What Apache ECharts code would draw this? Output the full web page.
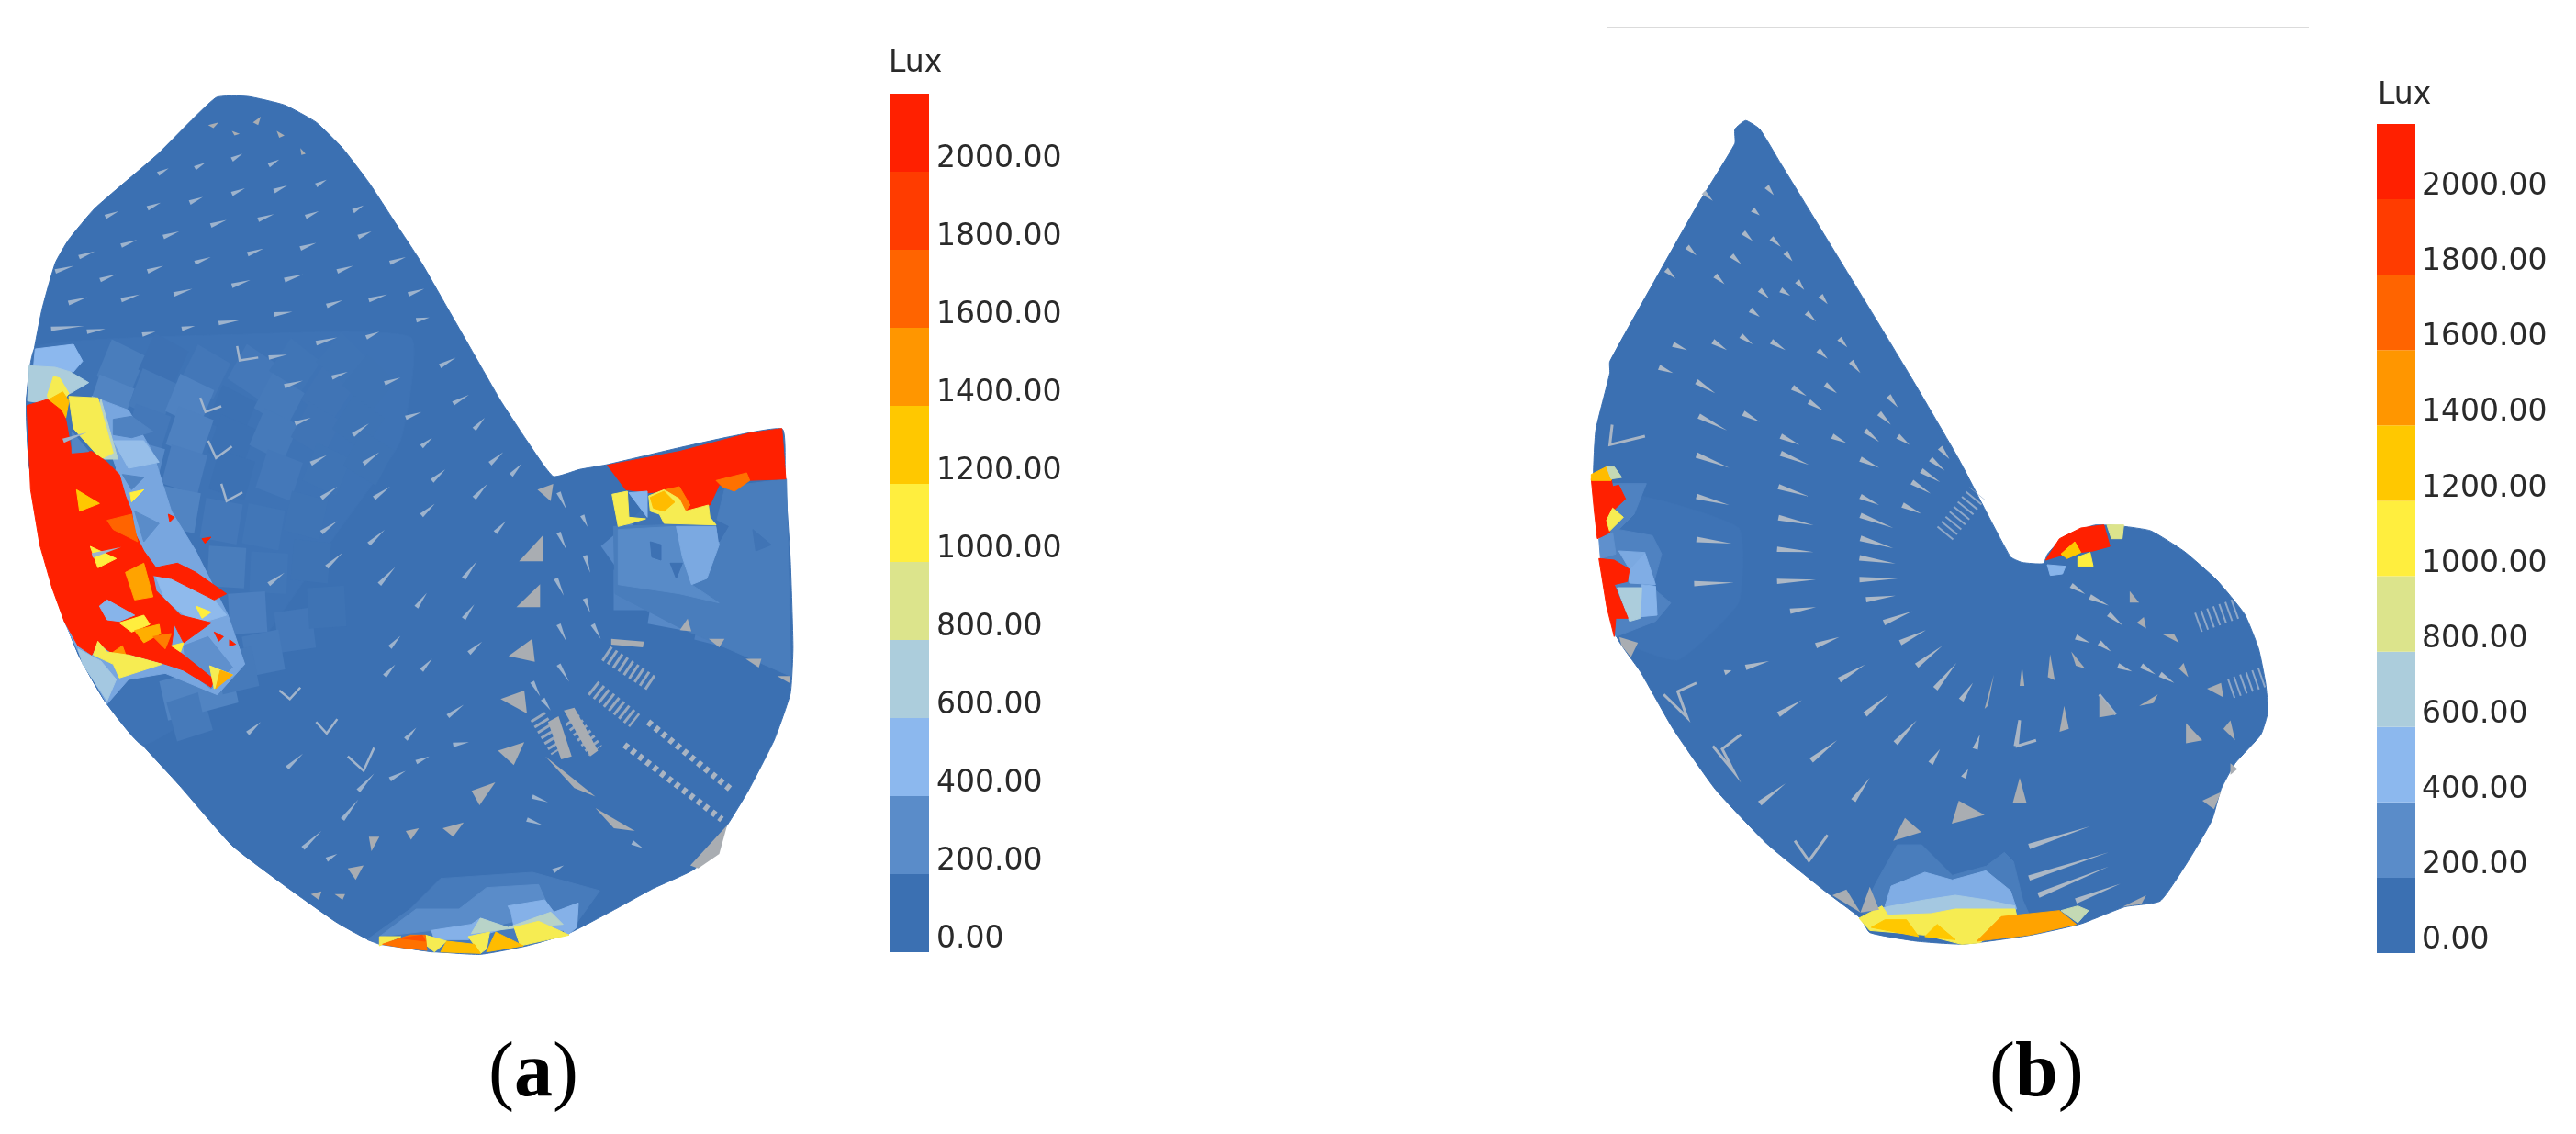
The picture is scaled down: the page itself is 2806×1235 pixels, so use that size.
<!DOCTYPE html>
<html>
<head>
<meta charset="utf-8">
<script src="https://cdn.jsdelivr.net/npm/echarts@6/dist/echarts.min.js"></script>
<style>
html,body{margin:0;padding:0;background:#fff}
#chart{width:2806px;height:1235px;filter:blur(0.7px)}
</style>
</head>
<body>
<div id="chart"></div>
<script>
// lux classes of the colour bar
const luxBins = [0,200,400,600,800,1000,1200,1400,1600,1800,2000];
const luxColors = ['#3b70b2','#5a8cc9','#8cb8ee','#accddc','#dce48c','#ffee3e','#ffc800','#ff9600','#ff6400','#ff3c00','#ff2000'];

// plan (a), whole room. [lux, [x,y,x,y...]]
const outlineA = [410,42,470,40,540,55,600,85,650,130,700,190,750,260,800,330,850,410,900,490,950,570,1000,640,1050,702,1100,690,1150,682,1290,652,1390,632,1485,620,1490,705,1500,850,1505,1000,1500,1080,1470,1160,1420,1250,1380,1310,1320,1385,1240,1420,1160,1460,1080,1498,1000,1520,910,1535,800,1528,720,1515,700,1510,640,1480,540,1415,440,1345,340,1240,270,1170,200,1095,150,1015,110,920,80,800,55,680,50,570,65,480,80,410,105,330,130,290,180,235,300,140];
const zonesA = [
  [100, outlineA],
  [122, [70,475,450,455,780,460,760,640,640,800,480,1010,350,1130,270,1170,200,1095,150,1015,110,920,80,800,55,680,50,570]]
];
// mosaic cells of plan (a): [x, y, lux]
const tilesA = [
  [230,510,190],[310,500,110],[390,520,150],[480,520,160],[560,510,135],[650,500,125],
  [210,570,240],[290,560,170],[360,570,230],[440,590,105],[530,570,170],[620,560,130],[700,540,120],
  [280,620,160],[360,625,220],[440,640,105],[520,630,170],[600,620,130],[680,610,120],
  [270,680,280],[350,690,200],[440,700,105],[530,700,160],[620,690,125],[700,670,118],
  [340,760,240],[420,780,160],[500,790,140],[580,770,125],[430,860,190],[510,870,140],[590,850,120],
  [470,940,210],[560,970,150],[500,1010,180],[620,930,118],
  [345,1085,240],[360,1120,170],[410,1070,240],[450,1040,170]
];
// mottled cells of the right wing of plan (a)
const tilesWingA = [
  [1190,830,280],[1250,860,240],[1310,830,300],[1380,820,220],[1200,900,230],[1270,930,280],[1340,900,240],
  [1410,880,190],[1360,960,210],[1430,950,150],[1250,780,130],[1380,760,120]
];
// left window of plan (a)
const zonesLeftA = [
  [420,[300,215,420,260,500,400,560,590,640,720,745,930,800,1090,710,1190,540,1120,420,1140,350,1220,270,1080,210,950,380,450]],
  [500,[115,60,240,45,270,100,240,135,110,115]],
  [700,[95,115,180,120,230,135,290,170,230,205,160,240,90,230]],
  [230,[370,290,430,280,500,330,430,350,370,340]],
  [240,[400,470,470,480,430,520]],
  [520,[500,780,590,770,700,880,740,930,640,960,540,880]],
  [560,[370,360,470,360,520,430,420,450]],
  [300,[440,590,520,630,470,690]],
  [320,[600,1030,680,1000,760,1100,690,1170,610,1110]],
  [750,[300,330,330,225,385,420,340,420]],
  [1050,[225,215,320,220,370,400,330,420,240,320]],
  [1050,[155,210,175,150,195,155,225,205,200,240,160,240]],
  [1350,[160,225,205,200,225,230,215,285,190,290]],
  [650,[255,1040,330,1080,380,1140,350,1210,270,1090]],
  [2100,[88,245,155,225,200,260,215,290,235,400,300,395,350,430,390,470,410,540,430,590,440,660,470,720,510,775,530,770,580,760,640,790,740,860,700,880,640,850,560,810,500,800,510,850,590,930,690,955,600,1020,570,960,560,1030,600,1060,700,1140,690,1165,600,1110,540,1090,430,1060,360,1050,320,1020,300,1060,255,1030,210,950,170,840,130,700,100,520]],
  [250,[235,330,290,395,235,400]],
  [1300,[250,520,325,565,260,590]],
  [1100,[295,705,380,745,320,775]],
  [1700,[350,620,430,600,450,690,370,650]],
  [1450,[410,790,470,760,500,870,440,880]],
  [480,[325,900,350,880,440,930,390,950,350,945]],
  [1100,[390,955,470,930,490,960,430,985]],
  [1400,[440,980,520,960,525,990,470,1020]],
  [1600,[500,1000,560,990,540,1040]],
  [1500,[370,1050,400,1030,415,1070,390,1080]],
  [1050,[305,1060,320,1015,350,1050,420,1060,530,1090,390,1135,370,1090]],
  [1050,[685,1095,760,1125,700,1170]],
  [1400,[760,1125,705,1170,720,1110]],
  [1100,[640,900,690,920,660,940]],
  [1100,[425,530,470,520,430,560]],
  [1100,[560,1030,600,1020,590,1050]],
  [2100,[550,600,570,610,555,625]],
  [2100,[660,680,690,675,670,695]],
  [2100,[750,1010,770,1025,750,1030]],
  [2100,[700,985,730,1000,715,1015]]
];
// right wing window of plan (a)
const zonesWingA = [
  [190,[85,370,420,360,450,240,650,215,665,860,300,700,90,590]],
  [290,[100,380,290,370,340,560,430,620,300,590,100,560]],
  [430,[290,370,420,370,430,430,390,540,340,560,310,470]],
  [110,[205,420,240,430,240,480,210,470]],
  [110,[270,490,310,490,290,540]],
  [110,[420,350,460,370,430,420]],
  [130,[540,380,600,430,550,450]],
  [2100,[65,170,300,125,530,65,635,50,648,215,520,220,430,235,400,300,320,320,300,250,200,260,125,250]],
  [1650,[420,220,520,195,530,220,480,255,440,240]],
  [1600,[255,250,300,240,335,300,320,320]],
  [1050,[80,265,130,255,135,340,190,345,140,360,100,370]],
  [1050,[200,270,250,250,300,280,320,320,395,300,400,340,420,365,250,360,235,330,205,320]],
  [480,[135,260,195,255,195,340]],
  [1350,[205,275,250,255,285,290,250,320,215,310]]
];
// bottom window of plan (a)
const zonesBottomA = [
  [180,[60,220,200,120,300,20,600,0,820,60,720,200,620,230,430,265,270,260,100,235]],
  [300,[100,210,220,120,360,120,450,50,620,40,660,130,500,170,270,190]],
  [470,[520,110,640,90,670,130,750,100,745,180,715,205,700,190,540,180,530,130]],
  [470,[270,190,400,170,430,150,520,180,390,220,280,220]],
  [750,[400,200,430,150,520,180,660,130,700,170,560,180]],
  [1050,[540,180,620,160,720,205,560,240]],
  [1050,[390,210,460,195,450,250,430,265]],
  [1050,[250,205,320,225,280,260,255,240]],
  [1050,[100,210,170,210,100,240]],
  [1350,[300,260,320,225,410,235,430,265]],
  [1350,[450,260,480,195,570,240]],
  [1650,[110,235,200,205,250,205,255,255,170,245]],
  [1800,[170,215,240,205,250,225]]
];

// plan (b), whole room
const outlineB = [372,65,395,50,425,65,470,125,560,245,650,365,750,500,850,640,960,810,985,820,1030,822,1040,805,1075,775,1140,755,1200,757,1260,765,1330,800,1400,850,1460,910,1490,970,1505,1030,1510,1080,1495,1120,1440,1170,1410,1215,1390,1270,1340,1340,1280,1410,1205,1420,1110,1450,1000,1470,860,1485,760,1480,660,1465,640,1440,560,1390,440,1310,330,1215,240,1110,170,1010,120,950,90,800,70,680,75,590,105,490,105,470,200,330,290,200,372,90];
const zonesB = [
  [100, outlineB],
  [122, [130,700,380,760,380,890,250,990,120,950,90,800]]
];
const zonesLeftB = [
  [230,[170,140,280,140,240,240,190,290,300,310,330,370,300,480,360,530,310,590,180,640,130,350]],
  [450,[220,420,275,365,310,470,225,465]],
  [430,[190,360,275,365,225,420]],
  [320,[125,320,170,300,180,370,130,385]],
  [480,[265,470,310,475,315,570,260,575]],
  [700,[185,480,265,480,260,580,225,590]],
  [2100,[100,125,165,125,170,150,190,145,212,190,175,225,160,300,120,320,110,230]],
  [1050,[150,260,170,220,205,250,185,270,160,295]],
  [1350,[100,110,150,85,175,100,165,130,100,130]],
  [800,[150,85,175,85,200,120,165,125]],
  [2100,[125,385,175,390,225,420,218,460,175,470,220,580,180,580,175,640,150,540]]
];
const zonesBottomB = [
  [190,[235,280,280,185,350,60,430,60,530,160,640,130,700,85,730,115,760,240,780,285,620,340,300,320]],
  [450,[310,260,330,195,440,150,530,175,640,145,720,210,740,270,540,300]],
  [650,[305,265,440,240,540,225,640,240,735,260,735,295,320,295]],
  [1050,[225,300,300,260,320,290,460,285,540,270,735,270,740,290,620,380,560,385,440,355,260,340]],
  [1300,[265,330,310,305,380,305,420,360]],
  [1300,[440,360,480,320,540,370]],
  [1450,[610,375,690,295,880,275,935,320,780,355]],
  [800,[885,275,940,260,975,275,940,315]]
];
const zonesTopB = [
  [480,[150,225,210,230,200,255,160,260]],
  [2100,[145,210,190,140,260,105,335,95,355,165,300,180,210,190]],
  [900,[345,95,400,95,395,140,360,140]],
  [1300,[195,190,240,150,260,185,215,205]],
  [1100,[250,200,290,185,300,230,250,230]]
];

// unlit slivers, plan (a)
const wedgesA = [
  [1020,725,1050,715,1045,745],[985,850,1030,805,1030,850],[980,930,1025,890,1025,930],[965,1015,1010,985,1015,1025],
  [950,1090,995,1075,1000,1115],[945,1180,995,1165,975,1205],[895,1250,940,1235,910,1275],[840,1315,880,1305,860,1330],
  [770,1320,795,1315,780,1335],[700,1330,720,1330,705,1355],[660,1385,690,1380,675,1405],[590,1430,610,1425,605,1440],
  [635,1430,655,1430,650,1440],[395,90,415,85,405,95],[440,100,455,105,445,108],[480,85,495,75,490,90],[525,100,540,108,530,112],
  [570,130,580,140,572,142],[1070,1110,1090,1105,1135,1180,1120,1190],[1040,1130,1060,1120,1085,1190,1065,1195],
  [1160,985,1222,990,1220,1000,1160,995],[1290,970,1305,950,1312,972],[1345,985,1375,985,1365,1000],[1415,1020,1445,1020,1440,1035],
  [1475,1050,1500,1050,1498,1062],[1310,1380,1380,1310,1365,1360,1325,1385],
  [1035,1190,1130,1260,1090,1245],[1130,1280,1205,1320,1165,1315]
];
const ticksA = [
  [300,175,320,165],[370,165,390,155],[440,150,460,140],[510,160,530,150],
  [200,250,225,240],[280,235,305,225],[360,225,385,215],[440,210,465,200],[520,205,545,195],[600,195,620,185],
  [150,320,180,310],[230,300,260,290],[310,285,340,275],[400,265,430,255],[490,255,520,245],[580,250,605,240],[670,240,690,230],
  [105,345,140,335],[190,360,220,350],[280,345,310,335],[370,330,400,320],[470,315,500,305],[570,305,600,295],[680,285,705,275],
  [130,400,165,390],[230,395,265,385],[330,385,365,375],[440,370,475,360],[540,360,575,350],[640,345,670,335],[740,330,770,320],
  [165,450,200,445],[270,455,295,450],[345,445,370,440],[415,435,455,430],[520,420,555,415],[620,405,650,395],[700,395,735,385],[775,385,805,375],
  [600,470,640,460],[695,460,720,450],[790,430,815,425],[510,495,545,490],
  [540,545,575,535],[630,530,660,520],[730,540,760,530],[835,510,865,495],
  [560,610,590,600],[670,630,700,610],[770,600,800,590],[860,575,890,560],
  [590,680,620,665],[690,680,720,660],[800,650,820,635],[900,620,920,600],
  [610,740,640,720],[710,740,740,720],[820,710,845,690],[930,680,955,660],
  [610,800,640,780],[700,820,730,795],[800,770,825,750],[900,740,925,715],[970,700,990,680],
  [510,890,540,870],[620,860,650,835],[720,890,750,860],[790,930,810,905],[880,880,905,850],[940,800,960,780],
  [470,1150,495,1130],[545,1210,575,1185],
  [740,1000,760,980],[800,1040,820,1020],[730,1050,750,1030],[880,950,900,925],[890,1010,915,990],
  [770,1160,790,1140],[850,1120,880,1100],[860,1170,890,1165],[790,1200,815,1190],[740,1230,770,1215],
  [680,1250,710,1220],[650,1300,680,1265],[575,1350,610,1320],[620,1370,640,1360],
  [97,445,160,440],[120,640,165,625],[175,840,230,825],
  [1010,1260,1040,1270],[1200,1340,1220,1350],[1050,1390,1070,1380],[1000,1300,1030,1310],
  [1060,730,1075,760],[1105,770,1115,790],[1060,800,1075,830],[1110,840,1120,870],[1055,880,1070,910],[1110,915,1120,940],
  [1060,960,1075,990],[1125,960,1140,985],[1010,1060,1025,1085],[1060,1030,1080,1060],[1030,1090,1045,1110]
];
// corner marks of plan (a)
const cornersA = [
  [450,475,455,500,490,495],[380,565,390,590,420,580],[395,640,410,670,440,650],[420,715,430,745,460,730],
  [530,1075,550,1090,570,1070],[600,1130,620,1150,640,1125],[660,1190,690,1215,710,1175]
];
// saw-tooth rows and stair hatches of plan (a)
const dashRowsA = [[1230,1130,1390,1250],[1185,1170,1370,1300]];
const hatchesA = [[1125,1070,1205,1128],[1150,1010,1240,1065],[1020,1120,1060,1180],[1085,1125,1130,1180]];

// unlit slivers, plan (b)
const wedgesB = [
  [1040,1020,1055,1025,1045,980],[980,1035,990,1035,985,1000],[1090,975,1120,1005,1100,1000],[1215,870,1235,890,1215,890],
  [1230,925,1250,935,1245,915],[1285,945,1320,960,1310,945],[1320,1005,1340,1020,1330,995],[1380,1040,1415,1055,1410,1030],
  [1065,1115,1085,1110,1075,1070],[1235,1070,1275,1050,1265,1065],[1150,1050,1185,1085,1150,1090],[1335,1135,1370,1130,1335,1100],
  [1415,1110,1440,1130,1430,1095],[965,1240,995,1240,980,1195],[835,1275,905,1260,850,1235],[710,1305,770,1290,735,1265],
  [640,1430,660,1385,680,1425],[580,1400,640,1430,610,1390],[1370,1235,1410,1220,1395,1250],[1200,1420,1250,1400,1240,1415],
  [125,950,165,960,150,985,130,965],[905,1075,925,1015,912,1070],[1430,1170,1445,1180,1430,1190]
];
const ticksB = [
  [290,633,360,655],[290,705,360,720],[290,780,365,787],[285,857,370,855],
  [465,688,530,705],[465,742,540,755],[462,797,540,802],[462,853,545,850],[490,905,545,898],
  [640,738,710,760],[640,778,710,795],[638,812,715,822],[638,850,720,848],[652,885,715,878],
  [690,925,750,905],[725,960,780,938],[760,1000,815,965],[800,1040,845,995],[855,1060,880,1030],
  [545,965,595,950],[595,1025,650,998],[650,1085,700,1050],[715,1135,760,1095],[535,1165,590,1130],[425,1240,480,1205],
  [395,1003,445,992],[350,1012,365,1008],[790,1170,810,1145],[625,1235,660,1195],[885,1145,895,1120],[860,1195,870,1180],[465,1085,515,1060],
  [295,565,355,590],[290,505,330,525],[210,480,240,490],[240,440,270,450],[225,310,245,325],[270,270,290,285],[330,320,350,335],[305,175,325,190],
  [365,285,385,300],[410,205,425,215],[440,165,455,180],[390,245,410,260],[425,345,445,360],[450,255,470,270],[480,280,495,295],
  [405,380,425,392],[470,345,490,355],[505,330,520,345],[325,435,355,450],[385,425,410,440],[450,435,480,450],[525,385,545,400],[555,355,570,370],
  [390,560,425,575],[495,515,525,530],[550,450,570,465],[595,430,612,445],[530,540,560,555],[565,510,590,525],[620,470,640,490],
  [470,630,530,650],[470,600,510,615],[580,600,610,612],[640,640,680,655],[650,590,680,610],[680,560,705,580],[720,600,745,615],[700,530,720,550],
  [640,705,680,720],[730,720,770,735],[750,680,790,700],[770,660,810,680],[790,640,820,660],[810,620,830,640],
  [1000,1315,1130,1280],[1000,1370,1170,1325],[1020,1400,1170,1350],[1100,1410,1195,1380],
  [1090,860,1120,875],[1130,880,1170,895],[1170,910,1200,930],
  [1280,1015,1310,1030],[1240,1000,1270,1015],[1190,1000,1220,1010],[1150,960,1175,975],[1100,950,1130,960]
];
const cornersB = [
  [110,580,105,615,180,600],[220,1050,270,1090,250,1045,290,1030],[325,1140,370,1185,345,1145,385,1120],
  [500,1305,530,1340,570,1295],[970,1140,980,1095,975,1140,1015,1130],[1150,1050,1185,1085]
];
// fine fan hatches of plan (b)
const hatchesB = [[820,770,890,700],[1360,925,1445,900],[1430,1040,1500,1020]];
// faint rule over plan (b)
const ruleB = [50,10,815,10];

const windows = [
  // left, top, width, height, x range, y range
  {id:'mainA', box:[0,80,900,980], range:[1568,1568]},
  {id:'leftA', box:[0,360,320,420], range:[960,1260]},
  {id:'wingA', box:[640,450,240,300], range:[720,900]},
  {id:'bottomA', box:[380,950,300,280], range:[900,840]},
  {id:'mainB', box:[1700,100,800,980], range:[1568,1568]},
  {id:'leftB', box:[1700,480,200,280], range:[600,840]},
  {id:'bottomB', box:[1950,900,400,330], range:[1200,990]},
  {id:'topB', box:[2180,540,200,120], range:[600,360]},
  {id:'rule', box:[1700,20,1000,20], range:[1000,20]}
];
const winIndex = id => windows.findIndex(w => w.id === id);

const toPts = (api, flat) => {
  const pts = [];
  for (let i = 0; i < flat.length; i += 2) pts.push(api.coord([flat[i], flat[i + 1]]));
  return pts;
};

let zSeq = 2;
const luxSeriesIdx = [];
const series = [];

function addZones(win, zones, smooth) {
  luxSeriesIdx.push(series.length);
  series.push({
    type:'custom', silent:true, z:zSeq++,
    xAxisIndex:winIndex(win), yAxisIndex:winIndex(win),
    data:zones.map(z => [z[0]]),
    renderItem(params, api) {
      const c = api.visual('color');
      return {type:'polygon', shape:{points:toPts(api, zones[params.dataIndex][1]), smooth:smooth || 0},
        style:{fill:c, stroke:c, lineWidth:1}};
    }
  });
}

function addTiles(win, tiles, pivot) {
  luxSeriesIdx.push(series.length);
  series.push({
    type:'custom', silent:true, z:zSeq++,
    xAxisIndex:winIndex(win), yAxisIndex:winIndex(win),
    data:tiles.map(t => [t[2]]),
    renderItem(params, api) {
      const t = tiles[params.dataIndex];
      const a = Math.atan2(t[1] - pivot[1], t[0] - pivot[0]);
      const r = 50, flat = [];
      for (let k = 0; k < 4; k++) {
        const b = a + Math.PI / 4 + k * Math.PI / 2;
        flat.push(t[0] + r * Math.cos(b), t[1] + r * Math.sin(b));
      }
      const c = api.visual('color');
      return {type:'polygon', shape:{points:toPts(api, flat)}, style:{fill:c}};
    }
  });
}

function addWedges(win, wedges) {
  series.push({
    type:'custom', silent:true, z:zSeq++,
    xAxisIndex:winIndex(win), yAxisIndex:winIndex(win),
    data:wedges.map((w, i) => [i]),
    renderItem(params, api) {
      return {type:'polygon', shape:{points:toPts(api, wedges[params.dataIndex])},
        style:{fill:'#a9adb2'}};
    }
  });
}

// slivers: thick at the first point, running out to nothing at the second
function addSlivers(win, ticks, color, px) {
  series.push({
    type:'custom', silent:true, z:zSeq++,
    xAxisIndex:winIndex(win), yAxisIndex:winIndex(win),
    data:ticks.map((w, i) => [i]),
    renderItem(params, api) {
      const t = ticks[params.dataIndex];
      const a = api.coord([t[0], t[1]]), b = api.coord([t[2], t[3]]);
      const dx = b[0] - a[0], dy = b[1] - a[1], len = Math.hypot(dx, dy) || 1;
      const nx = -dy / len * px / 2, ny = dx / len * px / 2;
      return {type:'polygon', shape:{points:[[a[0] + nx, a[1] + ny], [a[0] - nx, a[1] - ny], b]},
        style:{fill:color}};
    }
  });
}

function addLines(win, lines, color, width, dash) {
  series.push({
    type:'custom', silent:true, z:zSeq++,
    xAxisIndex:winIndex(win), yAxisIndex:winIndex(win),
    data:lines.map((w, i) => [i]),
    renderItem(params, api) {
      return {type:'polyline', shape:{points:toPts(api, lines[params.dataIndex])},
        style:{fill:null, stroke:color, lineWidth:width, lineDash:dash || null}};
    }
  });
}

addZones('mainA', zonesA, 0.15);
addTiles('mainA', tilesA, [1100,900]);
addTiles('mainA', tilesWingA, [1100,900]);
addZones('leftA', zonesLeftA);
addZones('wingA', zonesWingA);
addZones('bottomA', zonesBottomA);
addSlivers('mainA', ticksA, '#9db3cd', 5);
addLines('mainA', cornersA, '#a3b5cb', 2.5);
addLines('mainA', dashRowsA, '#a9b4c2', 7, [5,5]);
addLines('mainA', hatchesA, '#98a8bd', 18, [3,4]);
addWedges('mainA', wedgesA);

addZones('mainB', zonesB, 0.15);
addZones('leftB', zonesLeftB);
addZones('bottomB', zonesBottomB);
addZones('topB', zonesTopB);
addSlivers('mainB', ticksB, '#acb8c6', 6);
addLines('mainB', cornersB, '#a9b5c4', 3);
addLines('mainB', hatchesB, '#8fa8c8', 22, [2,5]);
addWedges('mainB', wedgesB);
addLines('rule', [ruleB], '#cfcfcf', 1.5);

// colour bars, one value axis each
const barGrids = [
  {left:969, top:102, width:43, height:935, margin:8},
  {left:2589, top:135, width:42, height:903, margin:7}
];
barGrids.forEach((g, i) => {
  const idx = windows.length + i;
  luxSeriesIdx.push(series.length);
  series.push({
    type:'custom', silent:true, z:zSeq++,
    xAxisIndex:idx, yAxisIndex:idx,
    data:luxBins.map(b => [b + 100, b]),
    encode:{y:1},
    renderItem(params, api) {
      const low = luxBins[params.dataIndex];
      const a = api.coord([0, low]), b = api.coord([1, low + 200]);
      return {type:'rect', shape:{x:a[0], y:b[1], width:b[0] - a[0], height:a[1] - b[1]},
        style:{fill:api.visual('color')}};
    }
  });
});

const grids = windows.map(w => ({left:w.box[0], top:w.box[1], width:w.box[2], height:w.box[3], containLabel:false}))
  .concat(barGrids.map(g => ({left:g.left, top:g.top, width:g.width, height:g.height})));
const hidden = {show:false};
const xAxes = windows.map(w => ({type:'value', min:0, max:w.range[0], ...hidden}))
  .concat(barGrids.map((g, i) => ({type:'value', min:0, max:1, show:false})));
const yAxes = windows.map(w => ({type:'value', min:0, max:w.range[1], inverse:true, ...hidden}))
  .concat(barGrids.map((g, i) => ({
    type:'value', position:'right', min:0, max:2200, interval:200,
    axisLine:{show:false}, axisTick:{show:false}, splitLine:{show:false},
    axisLabel:{show:true, margin:g.margin, showMaxLabel:false, color:'#2a2a2a', fontFamily:'DejaVu Sans', fontSize:33,
      verticalAlign:'bottom', lineHeight:27, formatter:v => v.toFixed(2)}
  })));
xAxes.forEach((a, i) => { a.gridIndex = i; });
yAxes.forEach((a, i) => { a.gridIndex = i; });

const capStyle = {
  p:{fontFamily:'Liberation Serif', fontSize:84, fontWeight:'normal', color:'#000'},
  b:{fontFamily:'Liberation Serif', fontSize:84, fontWeight:'bold', color:'#000'}
};

const chart = echarts.init(document.getElementById('chart'));
chart.setOption({
  animation:false,
  backgroundColor:'#fff',
  title:[
    {text:'Lux', left:963, top:48, textStyle:{fontFamily:'DejaVu Sans', fontSize:33, fontWeight:'normal', color:'#2a2a2a'}},
    {text:'Lux', left:2585, top:83, textStyle:{fontFamily:'DejaVu Sans', fontSize:33, fontWeight:'normal', color:'#2a2a2a'}},
    {text:'{p|(}{b|a}{p|)}', left:527, top:1124, textStyle:{rich:capStyle}},
    {text:'{p|(}{b|b}{p|)}', left:2162, top:1124, textStyle:{rich:capStyle}}
  ],
  visualMap:{type:'continuous', show:false, dimension:0, min:100, max:2100, inRange:{color:luxColors}, seriesIndex:luxSeriesIdx},
  grid:grids, xAxis:xAxes, yAxis:yAxes, series
});
</script>
</body>
</html>
